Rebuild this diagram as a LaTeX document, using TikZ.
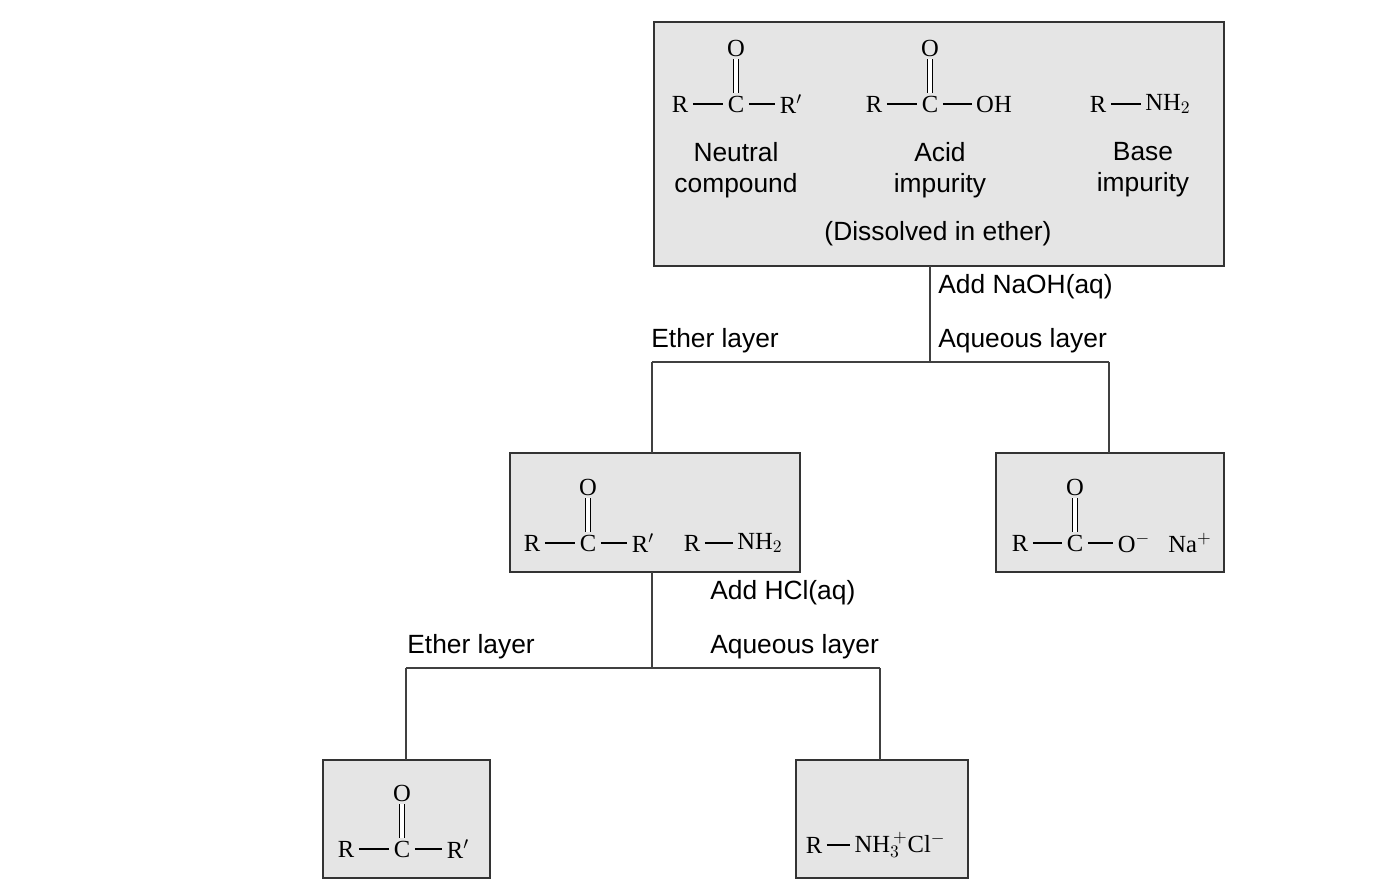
\documentclass[tikz,border=0pt]{standalone}
\usepackage{fontspec}
\setmainfont{Liberation Sans}
\newfontfamily\chemfont{Liberation Serif}
\usetikzlibrary{positioning}

\tikzset{
  box/.style={draw=black!80, fill=black!10, line width=0.9pt},
  lbl/.style={font=\fontsize{15}{17.5}\selectfont, inner sep=0pt},
  caption/.style={lbl, align=center},
  atom/.style={font=\chemfont\fontsize{14}{16}\selectfont, inner sep=1.5pt},
  bond/.style={line width=0.7pt, shorten <=1pt, shorten >=1pt},
  dbl/.style={double, double distance=2.5pt, line width=0.6pt},
  link/.style={draw=black!75, line width=0.9pt}
}

% carbonyl carbon #1 at (#2,#3) with its oxygen above
\newcommand{\carbonyl}[3]{%
  \node[atom] (#1) at (#2,#3) {C};
  \node[atom] (#1o) at (#2,#3-56) {O};
  \draw[dbl] (#1o.south) -- (#1.north);
}

\begin{document}
\begin{tikzpicture}[x=0.02cm, y=-0.02cm]
  \useasboundingbox (0,0) rectangle (1380,892);

  % boxes
  \draw[box] (654,22) rectangle (1224,266);
  \draw[box] (510,453) rectangle (800,572);
  \draw[box] (996,453) rectangle (1224,572);
  \draw[box] (323,760) rectangle (490,878);
  \draw[box] (796,760) rectangle (968,878);

  % top box: mixture
  \node[atom] (r1) at (680,104) {R};
  \carbonyl{c1}{736}{104}
  \node[atom] (p1) at (791,104) {R$'$};
  \draw[bond] (r1) -- (c1);
  \draw[bond] (c1) -- (p1);
  \node[atom] (r2) at (874,104) {R};
  \carbonyl{c2}{930}{104}
  \node[atom] (oh2) at (994,104) {OH};
  \draw[bond] (r2) -- (c2);
  \draw[bond] (c2) -- (oh2);
  \node[atom] (r3) at (1098,104) {R};
  \node[atom] (n3) at (1168,104) {NH$_2$};
  \draw[bond] (r3) -- (n3);
  \node[caption] (neutral) at (736,170) {Neutral\\compound};
  \node[caption] (acid) at (940,170) {Acid\\impurity};
  \node[caption] (base) at (1143,170) {Base\\impurity};
  \node[lbl] (ether) at (938,234) {(Dissolved in ether)};

  % middle left: ether layer after NaOH
  \node[atom] (r4) at (532,543) {R};
  \carbonyl{c4}{588}{543}
  \node[atom] (p4) at (643,543) {R$'$};
  \draw[bond] (r4) -- (c4);
  \draw[bond] (c4) -- (p4);
  \node[atom] (r5) at (692,543) {R};
  \node[atom] (n5) at (760,543) {NH$_2$};
  \draw[bond] (r5) -- (n5);

  % middle right: aqueous layer after NaOH
  \node[atom] (r6) at (1020,543) {R};
  \carbonyl{c6}{1075}{543}
  \node[atom] (o6) at (1134,543) {O$^-$};
  \node[atom] (na6) at (1190,543) {Na$^+$};
  \draw[bond] (r6) -- (c6);
  \draw[bond] (c6) -- (o6);

  % bottom left: neutral compound
  \node[atom] (r7) at (346,849) {R};
  \carbonyl{c7}{402}{849}
  \node[atom] (p7) at (458,849) {R$'$};
  \draw[bond] (r7) -- (c7);
  \draw[bond] (c7) -- (p7);

  % bottom right: ammonium salt
  \node[atom] (r8) at (814,845) {R};
  \node[atom] (n8) at (900,845) {NH$_3^{\,+}$Cl$^-$};
  \draw[bond] (r8) -- (n8);

  % first separation
  \coordinate (s1) at (930,266);
  \coordinate (j1) at (930,362);
  \coordinate (e1) at (652,362);
  \coordinate (a1) at (1109,362);
  \draw[link] (s1) -- (j1);
  \draw[link] (e1) -- (a1);
  \draw[link] (e1) -- (652,453);
  \draw[link] (a1) -- (1109,453);
  \node[lbl, anchor=west] (naoh) at (938,287) {Add NaOH(aq)};
  \node[lbl, anchor=west] (eth1) at (651,341) {Ether layer};
  \node[lbl, anchor=west] (aq1) at (938,341) {Aqueous layer};

  % second separation
  \coordinate (s2) at (652,572);
  \coordinate (j2) at (652,668);
  \coordinate (e2) at (406,668);
  \coordinate (a2) at (880,668);
  \draw[link] (s2) -- (j2);
  \draw[link] (e2) -- (a2);
  \draw[link] (e2) -- (406,760);
  \draw[link] (a2) -- (880,760);
  \node[lbl, anchor=west] (hcl) at (710,593) {Add HCl(aq)};
  \node[lbl, anchor=west] (eth2) at (407,647) {Ether layer};
  \node[lbl, anchor=west] (aq2) at (710,647) {Aqueous layer};
\end{tikzpicture}
\end{document}
